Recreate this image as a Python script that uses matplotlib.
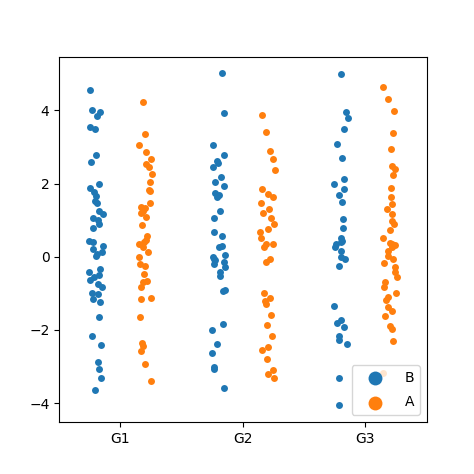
import numpy as np
import matplotlib
matplotlib.use("Agg")
import matplotlib.pyplot as plt

# values, per group and hue
groups = ["G1", "G2", "G3"]
hues = ["B", "A"]

g1_b = [4.55, 4.02, 3.95, 3.85, 3.56, 3.48, 2.79, 2.59, 2.0, 1.87, 1.77, 1.66,
        1.52, 1.46, 1.25, 1.16, 1.07, 1.0, 0.89, 0.79, 0.43, 0.29, 0.39, 0.21,
        0.14, 0.07, 0.03, -0.34, -0.43, -0.49, -0.55, -0.64, -0.75, -0.84,
        -0.98, -1.02, -1.16, -1.25, -1.66, -2.18, -2.42, -2.87, -3.08, -3.31,
        -3.63]
g1_a = [4.22, 3.35, 3.06, 2.85, 2.67, 2.53, 2.44, 2.27, 2.05, 1.82, 1.8, 1.46,
        1.37, 1.32, 1.25, 1.2, 1.09, 0.86, 0.57, 0.47, 0.34, 0.39, 0.26, 0.12,
        -0.02, -0.2, -0.25, -0.47, -0.66, -0.7, -0.84, -1.13, -1.16, -1.66,
        -2.35, -2.44, -2.58, -2.92, -3.4]
g2_b = [5.01, 3.92, 3.06, 2.78, 2.62, 2.55, 2.44, 2.18, 2.05, 1.94, 1.75, 1.69,
        1.62, 1.25, 1.07, 0.68, 0.57, 0.29, 0.26, 0.05, -0.06, -0.13, -0.2,
        -0.27, -0.43, -0.52, -0.91, -0.95, -1.84, -2.01, -2.39, -2.62, -3.01,
        -3.06, -3.6, 0.0, -0.1]
g2_a = [3.88, 3.42, 2.9, 2.68, 2.36, 1.84, 1.71, 1.62, 1.46, 1.3, 1.2, 1.07,
        0.89, 0.75, 0.68, 0.52, 0.36, 0.35, 0.26, -0.06, -0.13, -1.0, -1.13,
        -1.2, -1.28, -1.59, -1.86, -2.16, -2.48, -2.56, -2.8, -3.1, -3.21,
        -3.31]
g3_b = [4.99, 3.97, 3.79, 3.49, 3.08, 2.71, 2.12, 2.0, 1.84, 1.69, 1.51, 1.02,
        0.78, 0.52, 0.43, 0.34, 0.39, 0.27, 0.16, 0.0, -0.06, -0.25, -1.34,
        -1.73, -1.8, -1.92, -2.16, -2.28, -2.39, -3.31, -4.06]
g3_a = [4.63, 4.31, 3.99, 3.37, 2.94, 2.48, 2.39, 2.23, 1.89, 1.64, 1.45, 1.3,
        1.16, 0.99, 0.89, 0.72, 0.52, 0.38, 0.32, 0.35, 0.27, 0.16, 0.03, -0.06,
        -0.16, -0.27, -0.43, -0.55, -0.7, -0.84, -1.0, -1.11, -1.19, -1.37,
        -1.48, -1.62, -1.89, -1.98, -2.3, -3.17]

data = {
    ("G1", "B"): g1_b, ("G1", "A"): g1_a,
    ("G2", "B"): g2_b, ("G2", "A"): g2_a,
    ("G3", "B"): g3_b, ("G3", "A"): g3_a,
}
colors = {"B": "#1f77b4", "A": "#ff7f0e"}

fig, ax = plt.subplots(figsize=(4.74, 4.74), dpi=100)

rng = np.random.default_rng(3)  # strip jitter only
offsets = {"B": -0.2, "A": 0.2}
for h in hues:
    for i, g in enumerate(groups):
        vals = np.array(data[(g, h)])
        jit = rng.uniform(-0.06, 0.06, len(vals))
        ax.scatter(i + offsets[h] + jit, vals, s=25, color=colors[h],
                   linewidth=0, label=h if i == 0 else None, zorder=3)

ax.set_xticks(range(len(groups)))
ax.set_xticklabels(groups)
ax.set_xlim(-0.5, 2.5)
ax.set_yticks([-4, -2, 0, 2, 4])
ax.legend(loc="lower right", markerscale=2.0, handlelength=2.6,
          labelspacing=0.75)

fig.savefig("out.png", dpi=100)
